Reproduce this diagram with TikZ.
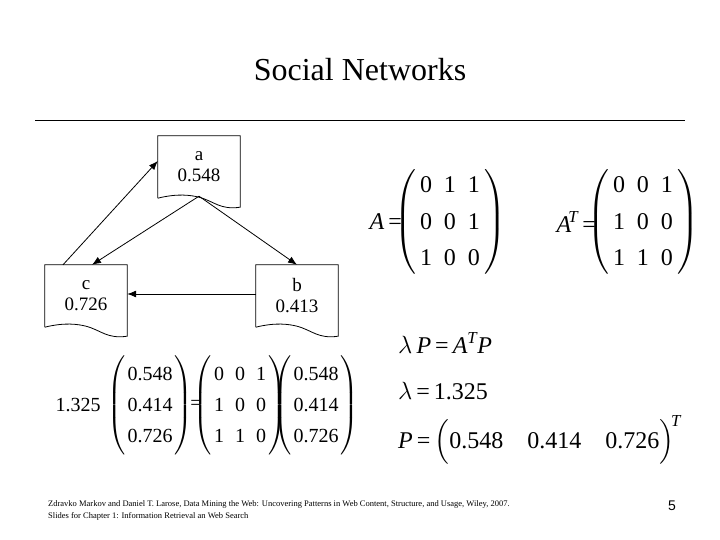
\documentclass[tikz,border=0pt]{standalone}
\usepackage{fontspec}
\usepackage{amsmath}
\usetikzlibrary{arrows.meta}
\setmainfont{Liberation Serif}
\setsansfont{Liberation Sans}
\begin{document}
\begin{tikzpicture}[x=1pt,y=-1pt,
  doc/.style={minimum width=82pt,minimum height=62pt,inner sep=0pt,align=center,font=\fontsize{19}{21}\selectfont},
  edge/.style={draw,line width=0.8pt,-{Latex[length=9pt,width=7pt]}},
  big/.style={font=\fontsize{24}{28}\selectfont,inner sep=0pt},
  mid/.style={font=\fontsize{20}{24}\selectfont,inner sep=0pt}]
\useasboundingbox (0,0) rectangle (720,540);
\node (title) at (360,70) {\fontsize{32}{38}\selectfont Social Networks};
\draw[line width=0.6pt] (35,120) coordinate (l1) -- (685,120) coordinate (l2);
% documents
\newcommand{\docshape}[1]{%
  \draw[line width=0.8pt] (#1.south west) -- (#1.north west) -- (#1.north east) -- ([yshift=-9pt]#1.south east)
  .. controls ([xshift=-20pt,yshift=-12pt]#1.south east) and ([xshift=15pt,yshift=-3pt]#1.south) .. ([yshift=1pt]#1.south)
  .. controls ([xshift=-8pt,yshift=3pt]#1.south) and ([xshift=20pt,yshift=5pt]#1.south west) .. (#1.south west);}
\node[doc] (a) at (199,167) {a\\0.548};
\node[doc] (c) at (86,296) {c\\0.726};
\node[doc] (b) at (297,296) {b\\0.413};
\docshape{a}\docshape{c}\docshape{b}
\draw[edge] ([xshift=-23pt]c.north) -- ([yshift=6pt]a.west);
\draw[edge] ([yshift=2pt]a.south) -- ([xshift=6pt]c.north);
\draw[edge] ([yshift=2pt]a.south) -- (b.north);
\draw[edge] ([yshift=2pt]b.west) -- ([yshift=2pt]c.east);
% matrices
\newcommand{\mtx}[1]{$\left(\begin{tabular}{@{\hspace{4pt}}c@{\hspace{12pt}}c@{\hspace{12pt}}c@{\hspace{4pt}}}#1\end{tabular}\right)$}
\node[big,anchor=east] (Aeq) at (402,222) {$\mathit{A}$\,=};
\node[big] (A) at (450,222) {\renewcommand{\arraystretch}{1.3}\mtx{0&1&1\\0&0&1\\1&0&0}};
\node[big,anchor=east] (ATeq) at (596,222) {$\mathit{A}^{\!\mathit{T}}$\,=};
\node[big] (AT) at (643,222) {\renewcommand{\arraystretch}{1.3}\mtx{0&0&1\\1&0&0\\1&1&0}};
\node[big,anchor=west] (e1) at (398,343) {$\lambda\,\mathit{P}$\,=\,$\mathit{A}^{\mathit{T}}\mathit{P}$};
\node[big,anchor=west] (e2) at (398,391) {$\lambda$\,=\,1.325};
\node[big,anchor=west] (e3) at (398,440) {$\mathit{P}$\,=\,$\Bigl($0.548\quad 0.414\quad 0.726$\Bigr)^{\!\mathit{T}}$};
% bottom-left equation
\newcommand{\vct}{$\left(\begin{tabular}{@{\hspace{2pt}}c@{\hspace{2pt}}}0.548\\0.414\\0.726\end{tabular}\right)$}
\node[mid] (s) at (78,405) {1.325};
\node[mid] (v1) at (150,405) {\renewcommand{\arraystretch}{1.3}\vct};
\node[mid] (eq) at (196,405) {=};
\node[mid] (M) at (240,405) {\renewcommand{\arraystretch}{1.3}$\left(\begin{tabular}{@{\hspace{2pt}}c@{\hspace{11pt}}c@{\hspace{11pt}}c@{\hspace{2pt}}}0&0&1\\1&0&0\\1&1&0\end{tabular}\right)$};
\node[mid] (v2) at (316,405) {\renewcommand{\arraystretch}{1.3}\vct};
% footer
\node[anchor=north west,align=left,inner sep=0pt,font=\fontsize{8.5}{12}\selectfont] (foot) at (48,500) {Zdravko Markov and Daniel T. Larose, Data Mining the Web: Uncovering Patterns in Web Content, Structure, and Usage, Wiley, 2007.\\Slides for Chapter 1: Information Retrieval an Web Search};
\node[font=\sffamily\fontsize{14}{16}\selectfont] (pg) at (672,506) {5};
\end{tikzpicture}
\end{document}
